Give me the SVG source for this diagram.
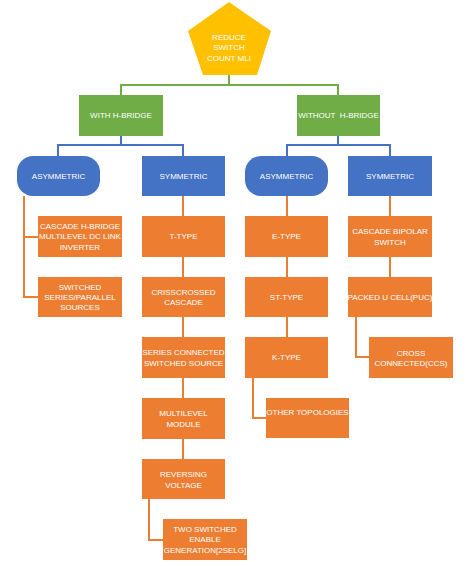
<svg xmlns="http://www.w3.org/2000/svg" width="474" height="566" viewBox="0 0 474 566">
<style>
.t{font-family:"Liberation Sans",Arial,sans-serif;font-size:8px;fill:#fff;text-anchor:middle;dominant-baseline:central}
.gold{fill:#FFC000}
.green{fill:#70AD47}
.blue{fill:#4472C4}
.orange{fill:#ED7D31}
.cg{fill:none;stroke:#70AD47;stroke-width:2}
.cb{fill:none;stroke:#4472C4;stroke-width:2}
.co{fill:none;stroke:#ED7D31;stroke-width:2}
</style>
<rect width="474" height="566" fill="#fff"/>
<g id="connectors">
<path class="cg" d="M229,75V85M121,95V85H338V95"/>
<path class="cb" d="M121,136V145M58,156V145H183V156"/>
<path class="cb" d="M338,136V145M287,156V145H390V156"/>
<path class="co" d="M24,196V297H38M24,237H38"/>
<path class="co" d="M183,196V216M183,257V277M183,317V337M183,378V398M183,439V459M149,499V540H163"/>
<path class="co" d="M287,196V216M287,257V277M287,317V337M253,378V418H266"/>
<path class="co" d="M390,196V216M390,257V277M356,317V357H369"/>
</g>
<g id="root"><polygon class="gold" points="229,2 271,31 257,75 203,75 188,31"/>
<text class="t" x="229" y="37">REDUCE</text><text class="t" x="229" y="47">SWITCH</text><text class="t" x="229" y="58">COUNT MLI</text></g>
<g id="with-hbridge"><rect class="green" x="79" y="95" width="84" height="41"/><text class="t" x="121" y="115.5">WITH H-BRIDGE</text></g>
<g id="without-hbridge"><rect class="green" x="297" y="95" width="83" height="41"/><text class="t" x="338.5" y="115.5" xml:space="preserve">WITHOUT  H-BRIDGE</text></g>
<g id="asym1"><rect class="blue" x="17" y="156" width="83" height="40" rx="16"/><text class="t" x="58.5" y="176">ASYMMETRIC</text></g>
<g id="sym1"><rect class="blue" x="142" y="156" width="83" height="40"/><text class="t" x="183.5" y="176">SYMMETRIC</text></g>
<g id="asym2"><rect class="blue" x="245" y="156" width="83" height="40" rx="16"/><text class="t" x="286.5" y="176">ASYMMETRIC</text></g>
<g id="sym2"><rect class="blue" x="348" y="156" width="84" height="40"/><text class="t" x="390" y="176">SYMMETRIC</text></g>
<g id="cascade-hbridge"><rect class="orange" x="38" y="216" width="84" height="41"/><text class="t" x="80" y="226">CASCADE H-BRIDGE</text><text class="t" x="80" y="236.5">MULTILEVEL DC LINK</text><text class="t" x="80" y="247">INVERTER</text></g>
<g id="switched-series"><rect class="orange" x="38" y="277" width="84" height="40"/><text class="t" x="80" y="287">SWITCHED</text><text class="t" x="80" y="297">SERIES/PARALLEL</text><text class="t" x="80" y="307.5">SOURCES</text></g>
<g id="t-type"><rect class="orange" x="142" y="216" width="83" height="41"/><text class="t" x="183.5" y="236.5">T-TYPE</text></g>
<g id="crisscrossed"><rect class="orange" x="142" y="277" width="83" height="40"/><text class="t" x="183.5" y="292">CRISSCROSSED</text><text class="t" x="183.5" y="302.5">CASCADE</text></g>
<g id="series-connected"><rect class="orange" x="142" y="337" width="83" height="41"/><text class="t" x="183.5" y="352">SERIES CONNECTED</text><text class="t" x="183.5" y="363">SWITCHED SOURCE</text></g>
<g id="multilevel-module"><rect class="orange" x="142" y="398" width="83" height="41"/><text class="t" x="183.5" y="413">MULTILEVEL</text><text class="t" x="183.5" y="424">MODULE</text></g>
<g id="reversing-voltage"><rect class="orange" x="142" y="459" width="83" height="40"/><text class="t" x="183.5" y="474">REVERSING</text><text class="t" x="183.5" y="485">VOLTAGE</text></g>
<g id="two-switched"><rect class="orange" x="163" y="519" width="84" height="41"/><text class="t" x="205" y="529">TWO SWITCHED</text><text class="t" x="205" y="539.5">ENABLE</text><text class="t" x="205" y="550.5">GENERATION[2SELG]</text></g>
<g id="e-type"><rect class="orange" x="245" y="216" width="83" height="41"/><text class="t" x="286.5" y="236.5">E-TYPE</text></g>
<g id="st-type"><rect class="orange" x="245" y="277" width="83" height="40"/><text class="t" x="286.5" y="297">ST-TYPE</text></g>
<g id="k-type"><rect class="orange" x="245" y="337" width="83" height="41"/><text class="t" x="286.5" y="357.5">K-TYPE</text></g>
<g id="other-topologies"><rect class="orange" x="266" y="398" width="83" height="40"/><text class="t" x="307.5" y="412">OTHER TOPOLOGIES</text></g>
<g id="cascade-bipolar"><rect class="orange" x="348" y="216" width="84" height="41"/><text class="t" x="390" y="231.5">CASCADE BIPOLAR</text><text class="t" x="390" y="242">SWITCH</text></g>
<g id="packed-u-cell"><rect class="orange" x="348" y="277" width="84" height="40"/><text class="t" x="390" y="297">PACKED U CELL(PUC)</text></g>
<g id="cross-connected"><rect class="orange" x="369" y="337" width="84" height="41"/><text class="t" x="411" y="353">CROSS</text><text class="t" x="411" y="363.5">CONNECTED(CCS)</text></g>
</svg>
